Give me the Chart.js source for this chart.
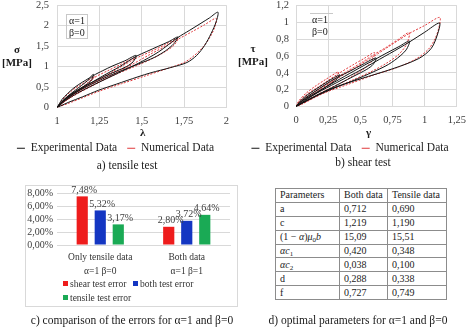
<!DOCTYPE html>
<html>
<head>
<meta charset="utf-8">
<script src="https://cdn.jsdelivr.net/npm/chart.js@4.4.1/dist/chart.umd.min.js"></script>
<style>
  body { margin: 0; width: 474px; height: 327px; background: #fff; position: relative; overflow: hidden;
         font-family: "Liberation Serif", "Times New Roman", serif; color: #1a1a1a; }
  canvas { position: absolute; }
  .ylab { position: absolute; font-weight: bold; font-size: 11px; line-height: 13px; text-align: center; width: 32px; }
  .xlab { position: absolute; font-weight: bold; font-size: 11px; line-height: 13px; }
  .coef { position: absolute; font-size: 10px; line-height: 12px; padding-left: 2px; box-sizing: border-box; }
  .cap { position: absolute; width: 240px; font-size: 11.5px; line-height: 14px; text-align: center; white-space: nowrap; }
  #barBox { position: absolute; left: 25px; top: 185px; width: 211px; height: 120px; border: 1px solid #d9d9d9; }
  .lg { position: absolute; font-size: 9.5px; line-height: 12px; white-space: nowrap; color: #333; }
  .lg i { display: inline-block; width: 5px; height: 5px; margin-right: 2px; vertical-align: 1px; }
  table { position: absolute; left: 275px; top: 188px; width: 172px; height: 112px; border-collapse: collapse;
          table-layout: fixed; font-size: 10px; color: #222; }
  td { border: 1px solid #8c8c8c; height: 12px; padding: 0 0 0 4px; line-height: 12px; white-space: nowrap; }
  sub { font-size: 7px; line-height: 0; vertical-align: -2px; }
</style>
</head>
<body>

<canvas id="tensile" width="237" height="164" style="left:0;top:0"></canvas>
<canvas id="shear" width="237" height="164" style="left:237px;top:0"></canvas>

<div class="ylab" style="left:1px;top:43px">σ<br>[MPa]</div>
<div class="xlab" style="left:140px;top:126px">λ</div>
<div class="coef" style="left:66px;top:14px;width:22px;height:25px;border:1px solid #c8c8c8">α=1<br>β=0</div>
<div class="cap" style="left:7px;top:158px">a) tensile test</div>

<div class="ylab" style="left:237px;top:42px">τ<br>[MPa]</div>
<div class="xlab" style="left:366px;top:126px">γ</div>
<div class="coef" style="left:310px;top:13px;width:23px;height:25px;border-top:1px solid #c8c8c8">α=1<br>β=0</div>
<div class="cap" style="left:243px;top:155px">b) shear test</div>

<div id="barBox"></div>
<canvas id="errors" width="212" height="95" style="left:25px;top:185px"></canvas>
<div class="lg" style="left:63px;top:278px"><i style="background:#ee1c1c"></i>shear test error</div>
<div class="lg" style="left:133px;top:278px"><i style="background:#1436c2"></i>both test error</div>
<div class="lg" style="left:63px;top:292px"><i style="background:#1aaa55"></i>tensile test error</div>
<div class="cap" style="left:12px;top:313px">c) comparison of the errors for α=1 and β=0</div>

<table id="params"></table>
<div class="cap" style="left:238px;top:313px">d) optimal parameters for α=1 and β=0</div>

<script>
// tensile test: stretch λ, stress σ [MPa]; four load/unload cycles chained from λ=1
const tensileExp = [
  [1,0],[1.015,0.1],[1.03,0.2],[1.06,0.33],[1.1,0.48],[1.15,0.62],[1.19,0.72],[1.215,0.81],
  [1.205,0.68],[1.18,0.58],[1.14,0.47],[1.1,0.37],[1.05,0.22],[1.02,0.1],[1,0],
  [1.03,0.15],[1.07,0.3],[1.12,0.46],[1.17,0.62],[1.215,0.78],[1.27,0.9],[1.33,1.02],[1.4,1.14],[1.467,1.275],
  [1.45,1.12],[1.41,1.0],[1.35,0.89],[1.28,0.76],[1.2,0.6],[1.12,0.42],[1.05,0.22],[1,0],
  [1.04,0.16],[1.1,0.34],[1.18,0.55],[1.27,0.77],[1.37,1.0],[1.467,1.25],[1.53,1.37],[1.6,1.5],[1.66,1.61],[1.713,1.725],
  [1.69,1.56],[1.642,1.39],[1.575,1.225],[1.478,1.06],[1.38,0.9],[1.28,0.72],[1.18,0.52],[1.1,0.34],[1.04,0.16],[1,0],
  [1.05,0.17],[1.12,0.35],[1.22,0.56],[1.35,0.82],[1.48,1.08],[1.6,1.36],[1.713,1.71],[1.78,1.88],[1.85,2.06],[1.9,2.19],[1.95,2.33],
  [1.94,2.1],[1.91,1.81],[1.872,1.52],[1.824,1.27],[1.767,1.1],[1.67,0.975],[1.555,0.85],[1.478,0.75],[1.35,0.57],[1.244,0.42],[1.15,0.26],[1.07,0.13],[1,0]
];
const tensileNum = [
  [1,0],[1.015,0.09],[1.03,0.18],[1.06,0.31],[1.1,0.45],[1.15,0.58],[1.19,0.68],[1.22,0.76],
  [1.2,0.64],[1.17,0.54],[1.12,0.42],[1.07,0.28],[1.03,0.13],[1,0],
  [1.03,0.14],[1.08,0.3],[1.14,0.47],[1.22,0.73],[1.3,0.9],[1.38,1.06],[1.46,1.22],
  [1.44,1.08],[1.4,0.97],[1.33,0.84],[1.25,0.68],[1.16,0.48],[1.08,0.28],[1.03,0.12],[1,0],
  [1.04,0.15],[1.1,0.32],[1.2,0.57],[1.33,0.88],[1.46,1.19],[1.55,1.36],[1.63,1.52],[1.715,1.7],
  [1.69,1.52],[1.64,1.37],[1.57,1.21],[1.48,1.04],[1.37,0.85],[1.26,0.65],[1.16,0.44],[1.08,0.25],[1.03,0.1],[1,0],
  [1.05,0.16],[1.13,0.36],[1.25,0.62],[1.4,0.95],[1.55,1.3],[1.65,1.52],[1.715,1.67],[1.8,1.86],[1.87,2.02],[1.94,2.18],
  [1.93,1.95],[1.9,1.7],[1.86,1.47],[1.81,1.27],[1.75,1.1],[1.65,0.95],[1.52,0.77],[1.38,0.58],[1.25,0.4],[1.14,0.22],[1.06,0.09],[1,0]
];

// shear test: strain γ, stress τ [MPa]
const shearExp = [
  [0,0],[0.02,0.04],[0.05,0.09],[0.1,0.15],[0.17,0.22],[0.25,0.3],[0.34,0.376],
  [0.32,0.33],[0.28,0.28],[0.2,0.2],[0.12,0.12],[0.05,0.05],[0,0],
  [0.04,0.06],[0.1,0.13],[0.18,0.21],[0.27,0.3],[0.34,0.36],[0.42,0.42],[0.52,0.5],[0.622,0.576],
  [0.6,0.5],[0.55,0.44],[0.45,0.36],[0.35,0.28],[0.25,0.2],[0.15,0.12],[0.06,0.05],[0,0],
  [0.05,0.07],[0.15,0.16],[0.3,0.29],[0.45,0.42],[0.622,0.565],[0.7,0.63],[0.8,0.71],[0.882,0.776],
  [0.86,0.68],[0.81,0.6],[0.72,0.5],[0.6,0.41],[0.45,0.31],[0.3,0.22],[0.15,0.12],[0.05,0.04],[0,0],
  [0.07,0.08],[0.2,0.19],[0.35,0.31],[0.5,0.43],[0.65,0.56],[0.8,0.69],[0.882,0.765],[1.0,0.88],[1.115,0.99],
  [1.103,0.87],[1.052,0.69],[0.954,0.568],[0.753,0.448],[0.502,0.328],[0.253,0.2],[0.1,0.085],[0,0]
];
const shearNum = [
  [0,0],[0.015,0.05],[0.04,0.1],[0.08,0.16],[0.14,0.23],[0.23,0.32],[0.33,0.41],
  [0.31,0.34],[0.27,0.28],[0.2,0.2],[0.12,0.12],[0.05,0.05],[0,0],
  [0.03,0.07],[0.08,0.14],[0.16,0.22],[0.25,0.31],[0.33,0.39],[0.45,0.5],[0.53,0.57],[0.61,0.64],
  [0.59,0.54],[0.54,0.46],[0.45,0.37],[0.35,0.28],[0.24,0.2],[0.13,0.11],[0.05,0.04],[0,0],
  [0.04,0.07],[0.12,0.15],[0.25,0.28],[0.4,0.42],[0.52,0.53],[0.61,0.62],[0.7,0.7],[0.79,0.79],[0.88,0.876],
  [0.86,0.74],[0.8,0.62],[0.7,0.51],[0.58,0.41],[0.45,0.32],[0.3,0.22],[0.15,0.11],[0.05,0.03],[0,0],
  [0.05,0.07],[0.15,0.17],[0.3,0.31],[0.45,0.45],[0.6,0.59],[0.72,0.71],[0.88,0.865],[1.0,0.96],[1.117,1.056],
  [1.11,0.93],[1.08,0.8],[1.03,0.68],[0.94,0.57],[0.8,0.47],[0.6,0.37],[0.4,0.26],[0.2,0.15],[0.08,0.06],[0,0]
];

// error comparison (%)
const errorGroups = [['Only tensile data', 'α=1 β=0'], ['Both data', 'α=1 β=1']];
const shearError = [7.48, 2.80];
const bothError = [5.32, 3.72];
const tensileError = [3.17, 4.64];

// optimal parameters table
const paramNames = ['a', 'c', '(1 − <i>α</i>)<i>μ</i><sub>0</sub><i>b</i>', '<i>αc</i><sub>1</sub>', '<i>αc</i><sub>2</sub>', 'd', 'f'];
const paramBoth = ['0,712', '1,219', '15,09', '0,420', '0,038', '0,288', '0,727'];
const paramTensile = ['0,690', '1,190', '15,51', '0,348', '0,100', '0,338', '0,749'];

const serif = '"Liberation Serif", "Times New Roman", serif';
const gridColor = '#d9d9d9';
const comma = v => String(Math.round(v * 100) / 100).replace('.', ',');
const pct = v => v.toFixed(2).replace('.', ',') + '%';

// y tick gap comes from an invisible tick mark so the top of the plot stays tight
function loopChart(id, exp, num, xMin, xMax, xStep, yMax, yStep, yWidth, yGap, xHeight, padRight) {
  return new Chart(document.getElementById(id), {
    type: 'scatter',
    data: {
      datasets: [{
        label: 'Experimental Data',
        data: exp.map(p => ({ x: p[0], y: p[1] })),
        showLine: true, borderColor: '#151515', borderWidth: 1,
        pointRadius: 0, pointStyle: 'line', tension: 0.3
      }, {
        label: 'Numerical Data',
        data: num.map(p => ({ x: p[0], y: p[1] })),
        showLine: true, borderColor: '#e0383b', borderWidth: 1, borderDash: [2, 1.5],
        pointRadius: 0, pointStyle: 'line', tension: 0.3
      }]
    },
    options: {
      responsive: false, animation: false,
      layout: { padding: { top: 0, right: padRight, bottom: 0, left: 0 } },
      scales: {
        x: {
          min: xMin, max: xMax,
          ticks: { stepSize: xStep, padding: 8, color: '#404040', font: { family: serif, size: 10.5, lineHeight: 1 }, callback: comma },
          grid: { color: gridColor, drawTicks: false },
          border: { color: gridColor },
          afterFit: s => { s.height = xHeight; }
        },
        y: {
          min: 0, max: yMax,
          ticks: { stepSize: yStep, padding: 0, autoSkip: false, color: '#404040', font: { family: serif, size: 10.5, lineHeight: 1 }, callback: comma },
          grid: { color: gridColor, tickLength: yGap, tickColor: 'rgba(0,0,0,0)' },
          border: { color: gridColor },
          afterFit: s => { s.width = yWidth; }
        }
      },
      plugins: {
        legend: {
          position: 'bottom',
          labels: { usePointStyle: true, pointStyleWidth: 8, boxHeight: 8, padding: 10, color: '#222', font: { family: serif, size: 11.5 } }
        },
        tooltip: { enabled: false }
      }
    }
  });
}

loopChart('tensile', tensileExp, tensileNum, 1, 2, 0.25, 2.5, 0.5, 57, 8, 25, 6);
loopChart('shear', shearExp, shearNum, 0, 1.25, 0.25, 1.2, 0.2, 59, 7, 26, 11);

// value labels above each bar
const barValueLabels = {
  id: 'barValueLabels',
  afterDatasetsDraw(chart) {
    const ctx = chart.ctx;
    ctx.save();
    ctx.font = '10px ' + serif;
    ctx.fillStyle = '#404040';
    ctx.textAlign = 'center';
    ctx.textBaseline = 'bottom';
    chart.data.datasets.forEach((ds, i) => {
      chart.getDatasetMeta(i).data.forEach((bar, j) => {
        ctx.fillText(pct(ds.data[j]), bar.x + 2, bar.y - 1);
      });
    });
    ctx.restore();
  }
};

new Chart(document.getElementById('errors'), {
  type: 'bar',
  data: {
    labels: errorGroups,
    datasets: [
      { label: 'shear test error', data: shearError, backgroundColor: '#ee1c1c' },
      { label: 'both test error', data: bothError, backgroundColor: '#1436c2' },
      { label: 'tensile test error', data: tensileError, backgroundColor: '#1aaa55' }
    ]
  },
  options: {
    responsive: false, animation: false,
    categoryPercentage: 0.625, barPercentage: 0.62,
    layout: { padding: { top: 8, right: 7, bottom: 0, left: 0 } },
    scales: {
      x: {
        ticks: { padding: 6, color: '#333', font: { family: serif, size: 9.5, lineHeight: 1.45 } },
        grid: { display: false, drawTicks: false },
        border: { color: gridColor },
        afterFit: s => { s.height = 35; }
      },
      y: {
        min: 0, max: 8,
        ticks: { stepSize: 2, padding: 0, autoSkip: false, color: '#404040', font: { family: serif, size: 10, lineHeight: 1 }, callback: pct },
        grid: { color: gridColor, tickLength: 4, tickColor: 'rgba(0,0,0,0)' },
        border: { display: false },
        afterFit: s => { s.width = 32; }
      }
    },
    plugins: { legend: { display: false }, tooltip: { enabled: false } }
  },
  plugins: [barValueLabels]
});

// parameter table (fixed layout: widths are content widths, padding comes on top)
const table = document.getElementById('params');
let rows = '<tr><td style="width:59px">Parameters</td><td style="width:43px">Both data</td><td>Tensile data</td></tr>';
paramNames.forEach((name, i) => {
  rows += '<tr><td>' + name + '</td><td>' + paramBoth[i] + '</td><td>' + paramTensile[i] + '</td></tr>';
});
table.innerHTML = rows;
</script>
</body>
</html>
